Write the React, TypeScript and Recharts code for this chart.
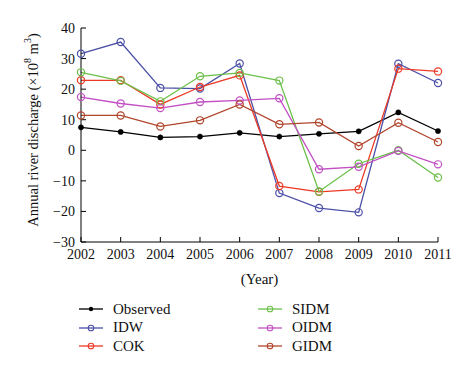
import { Legend, Line, LineChart, XAxis, YAxis } from "recharts";

const years = ["2002", "2003", "2004", "2005", "2006", "2007", "2008", "2009", "2010", "2011"];
const observed = [7.5, 6.0, 4.2, 4.5, 5.7, 4.5, 5.4, 6.2, 12.4, 6.3];
const idw = [31.6, 35.4, 20.4, 20.2, 28.4, -14.0, -18.9, -20.3, 28.3, 22.0];
const cok = [22.9, 22.9, 15.0, 20.7, 24.5, -11.7, -13.6, -12.8, 26.7, 25.8];
const sidm = [25.5, 22.7, 16.0, 24.2, 25.3, 22.8, -13.5, -4.4, 0.0, -8.9];
const oidm = [17.4, 15.3, 13.8, 15.8, 16.3, 17.0, -6.2, -5.4, -0.2, -4.6];
const gidm = [11.4, 11.4, 7.8, 9.8, 15.0, 8.5, 9.1, 1.4, 9.0, 2.7];
const yTicks = [-30, -20, -10, 0, 10, 20, 30, 40];

const series = [
  { key: "observed", name: "Observed", color: "#000000", values: observed },
  { key: "idw", name: "IDW", color: "#4b4fa6", values: idw },
  { key: "cok", name: "COK", color: "#ec3a26", values: cok },
  { key: "sidm", name: "SIDM", color: "#6cc04a", values: sidm },
  { key: "oidm", name: "OIDM", color: "#c24fc4", values: oidm },
  { key: "gidm", name: "GIDM", color: "#b0452c", values: gidm },
];

const data = years.map((year, i) => {
  const row: Record<string, string | number> = { year };
  series.forEach((s) => (row[s.key] = s.values[i]));
  return row;
});

const FONT = "'Liberation Serif', 'DejaVu Serif', serif";

function YTitle(props: any) {
  const vb = props.viewBox || {};
  const cy = (vb.y ?? 28) + (vb.height ?? 214) / 2 - 5;
  const cx = 33;
  return (
    <text
      x={cx}
      y={cy}
      transform={`rotate(-90, ${cx}, ${cy})`}
      textAnchor="middle"
      dominantBaseline="central"
      fontFamily={FONT}
      fontSize={14.5}
      fill="#111"
    >
      Annual river discharge (×10
      <tspan fontSize={10} baselineShift="super">8</tspan>
      <tspan> m</tspan>
      <tspan fontSize={10} baselineShift="super">3</tspan>)
    </text>
  );
}

function LegendBox() {
  const rowH = 18.5;
  return (
    <div style={{ position: "relative", width: 474, height: 80, fontFamily: FONT, fontSize: 15 }}>
      {series.map((s, i) => {
        const col = i < 3 ? 0 : 1;
        const row = i % 3;
        const left = col === 0 ? 79 : 258;
        const top = 8 + row * rowH;
        return (
          <div key={s.key} style={{ position: "absolute", left, top, height: rowH, display: "flex", alignItems: "center" }}>
            <svg width={26} height={10} style={{ display: "block" }}>
              <line x1={0} y1={5} x2={24} y2={5} stroke={s.color} strokeWidth={1.3} />
              {s.key === "observed" ? (
                <circle cx={12} cy={5} r={2.2} fill={s.color} />
              ) : (
                <circle cx={12} cy={5} r={2.8} fill="none" stroke={s.color} strokeWidth={1.1} />
              )}
            </svg>
            <span style={{ marginLeft: 8, color: "#111", lineHeight: 1 }}>{s.name}</span>
          </div>
        );
      })}
    </div>
  );
}

export default function App() {
  return (
    <div style={{ position: "absolute", left: 0, top: 0, width: 474, height: 372, background: "#fff" }}>
      <LineChart width={474} height={372} data={data} margin={{ top: 28, right: 36, bottom: 0, left: 0 }}>
        <XAxis
          dataKey="year"
          height={50}
          tickSize={-5}
          tickMargin={12}
          stroke="#000"
          tick={{ fill: "#111", fontFamily: FONT, fontSize: 14 }}
          interval={0}
          label={{ value: "(Year)", position: "insideBottom", offset: 8, fill: "#111", fontFamily: FONT, fontSize: 15 }}
        />
        <XAxis xAxisId="top" dataKey="year" orientation="top" height={0} tickSize={-5} tick={false} stroke="#000" interval={0} />
        <YAxis
          width={81}
          domain={[-30, 40]}
          ticks={yTicks}
          tickSize={-5}
          tickMargin={11}
          stroke="#000"
          interval={0}
          tickFormatter={(v: number) => String(v).replace("-", "\u2212")}
          tick={{ fill: "#111", fontFamily: FONT, fontSize: 14 }}
          label={<YTitle />}
        />
        <YAxis yAxisId="right" orientation="right" width={0} domain={[-30, 40]} ticks={yTicks} tickSize={-5} tick={false} stroke="#000" interval={0} />
        <Legend
          verticalAlign="bottom"
          height={80}
          wrapperStyle={{ left: 0, top: 292, width: 474, height: 80 }}
          content={() => <LegendBox />}
        />
        {series.map((s) => (
          <Line
            key={s.key}
            dataKey={s.key}
            name={s.name}
            stroke={s.color}
            strokeWidth={1.3}
            type="linear"
            isAnimationActive={false}
            dot={
              s.key === "observed"
                ? { r: 2.6, fill: s.color, stroke: s.color, strokeWidth: 0.5 }
                : { r: 3.6, fill: "none", stroke: s.color, strokeWidth: 1.2 }
            }
            activeDot={false}
          />
        ))}
      </LineChart>
    </div>
  );
}
